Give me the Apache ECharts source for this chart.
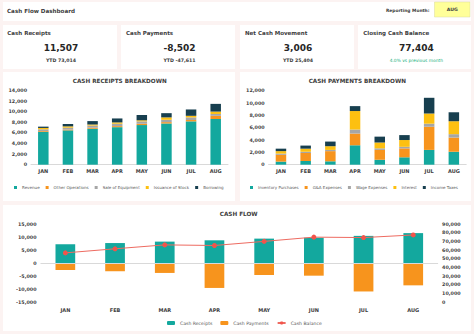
<!DOCTYPE html>
<html><head><meta charset="utf-8">
<script src="https://cdn.jsdelivr.net/npm/echarts@6/dist/echarts.min.js"></script>
<style>html,body{margin:0;padding:0;background:#fcf3f2;}#c{width:474px;height:334px;}</style>
</head><body><div id="c"></div>
<script>
// ---- data ----
const months = ['JAN','FEB','MAR','APR','MAY','JUN','JUL','AUG'];
const revenue    = [6200, 6500, 6800, 7100, 7500, 7800, 8200, 8650];
const otherOps   = [150, 150, 200, 200, 250, 250, 250, 600];
const saleEquip  = [350, 350, 400, 450, 450, 450, 500, 350];
const issuance   = [250, 250, 200, 250, 200, 450, 300, 450];
const borrowing  = [250, 450, 650, 750, 1000, 800, 1200, 1457];
const inventory  = [500, 600, 550, 3150, 800, 1200, 2400, 2100];
const gna        = [1100, 1300, 1650, 1900, 1600, 1450, 3750, 2300];
const wage       = [200, 200, 200, 650, 250, 250, 500, 550];
const interest   = [400, 500, 600, 3000, 950, 1100, 1650, 2100];
const incomeTax  = [400, 500, 750, 800, 950, 800, 2550, 1452];
const cashBalance = [56800, 61500, 66000, 65300, 70000, 74900, 74400, 77404];
const kpiTitles = ['Cash Receipts', 'Cash Payments', 'Net Cash Movement', 'Closing Cash Balance'];
const kpiValues = ['11,507', '-8,502', '3,006', '77,404'];
const kpiSubs   = ['YTD 73,014', 'YTD -47,611', 'YTD 25,404', '4.0% vs previous month'];
const reportingMonth = 'AUG';

// ---- derived ----
const receiptsTotal = months.map((_, i) => revenue[i] + otherOps[i] + saleEquip[i] + issuance[i] + borrowing[i]);
const paymentsTotal = months.map((_, i) => -(inventory[i] + gna[i] + wage[i] + interest[i] + incomeTax[i]));

const C = {teal:'#13a89e', orange:'#f7941d', gray:'#a6a6a6', yellow:'#fdc010', dark:'#173f4f', line:'#ee6b61', marker:'#f2544b'};
const FONT = '"DejaVu Sans", Verdana, sans-serif';
const txt = '#404040';
const fmt = v => v.toLocaleString('en-US');

const chart = echarts.init(document.getElementById('c'), null, {renderer:'svg'});

const graphic = [
  {type:'rect', shape:{x:3,y:2,width:468,height:19}, style:{fill:'#fff'}, silent:true},
  {type:'rect', shape:{x:3,y:25,width:114,height:44}, style:{fill:'#fff'}, silent:true},
  {type:'rect', shape:{x:121,y:25,width:114,height:44}, style:{fill:'#fff'}, silent:true},
  {type:'rect', shape:{x:240,y:25,width:114,height:44}, style:{fill:'#fff'}, silent:true},
  {type:'rect', shape:{x:358,y:25,width:113,height:44}, style:{fill:'#fff'}, silent:true},
  {type:'rect', shape:{x:3,y:72,width:232,height:129}, style:{fill:'#fff'}, silent:true},
  {type:'rect', shape:{x:240,y:72,width:231,height:129}, style:{fill:'#fff'}, silent:true},
  {type:'rect', shape:{x:3,y:205,width:468,height:126}, style:{fill:'#fff'}, silent:true},
  {type:'text', x:7, y:10.7, style:{text:'Cash Flow Dashboard', font:'bold 5.6px '+FONT, fill:txt, verticalAlign:'middle'}},
  {type:'text', x:429.5, y:10.7, style:{text:'Reporting Month:', font:'bold 4.4px '+FONT, fill:txt, align:'right', verticalAlign:'middle'}},
  {type:'rect', shape:{x:434.5,y:2,width:35.5,height:15}, style:{fill:'#ffff99', stroke:'#d9d9a0', lineWidth:0.5}},
  {type:'text', x:452.3, y:9.7, style:{text:reportingMonth, font:'bold 4.6px '+FONT, fill:txt, align:'center', verticalAlign:'middle'}}
];
const cardTitleX = [7.3, 126, 245, 363.3];
const cardCenterX = [61, 179.5, 298, 416.3];
kpiTitles.forEach((t, i) => {
  graphic.push({type:'text', x:cardTitleX[i], y:33.3, style:{text:t, font:'bold 5.5px '+FONT, fill:txt, verticalAlign:'middle'}});
  graphic.push({type:'text', x:cardCenterX[i], y:48.3, style:{text:kpiValues[i], font:'bold 9px '+FONT, fill:'#262626', align:'center', verticalAlign:'middle'}});
  const green = i === 3;
  graphic.push({type:'text', x:cardCenterX[i], y:60.3, style:{text:kpiSubs[i], font:(green?'':'bold ')+(green?'4.4px ':'4.7px ')+FONT, fill:green?'#22b07d':txt, align:'center', verticalAlign:'middle'}});
});

const axisLabel = (size) => ({color:txt, fontWeight:'bold', fontSize:size, fontFamily:FONT});
const catAxis = (gi, size, margin) => ({
  type:'category', gridIndex:gi, data:months,
  axisLine:{show:true, onZero:false, lineStyle:{color:'#d9d9d9', width:1}},
  axisTick:{show:false}, axisLabel:Object.assign(axisLabel(size), {margin:margin}), splitLine:{show:false}
});
const valAxis = (gi, min, max, interval, pos, show=true) => ({
  type:'value', gridIndex:gi, min, max, interval, position:pos,
  axisLine:{show:false}, axisTick:{show:false}, splitLine:{show:false},
  axisLabel:Object.assign(axisLabel(4.8), {formatter:v => fmt(v), margin:4, show:show})
});

const stackBar = (name, data, color, xi, stack, bw) => ({
  name, type:'bar', stack, xAxisIndex:xi, yAxisIndex:xi, data, barWidth:bw,
  itemStyle:{color}, emphasis:{disabled:true}
});

const legendText = (s) => ({color:'#595959', fontSize:s, fontFamily:FONT});

const option = {
  animation:false,
  textStyle:{fontFamily:FONT},
  graphic,
  title:[
    {text:'CASH RECEIPTS BREAKDOWN', left:119.7, top:77.6, textAlign:'center', padding:0, textStyle:{fontSize:5.7, fontWeight:'bold', color:txt, fontFamily:FONT}},
    {text:'CASH PAYMENTS BREAKDOWN', left:357.3, top:77.6, textAlign:'center', padding:0, textStyle:{fontSize:5.7, fontWeight:'bold', color:txt, fontFamily:FONT}},
    {text:'CASH FLOW', left:238.7, top:211, textAlign:'center', padding:0, textStyle:{fontSize:5.7, fontWeight:'bold', color:txt, fontFamily:FONT}}
  ],
  legend:[
    {data:['Revenue','Other Operations','Sale of Equipment','Issuance of Stock','Borrowing'], left:14, top:185.5, padding:0, itemWidth:3, itemHeight:3, itemGap:6, icon:'rect', textStyle:legendText(4.05)},
    {data:['Inventory Purchases','G&A Expenses','Wage Expenses','Interest','Income Taxes'], left:250, top:185.5, padding:0, itemWidth:3, itemHeight:3, itemGap:6, icon:'rect', textStyle:legendText(4.0)},
    {data:['Cash Receipts','Cash Payments','Cash Balance'], left:167, top:320.5, padding:0, itemWidth:8, itemHeight:4, itemGap:8, textStyle:legendText(4.6)}
  ],
  grid:[
    {left:31, top:90.7, width:197, height:74, containLabel:false},
    {left:268.6, top:90.7, width:197.6, height:74, containLabel:false},
    {left:40.5, top:224, width:397.6, height:78.3, containLabel:false}
  ],
  xAxis:[catAxis(0, 5, 4), catAxis(1, 5, 4), Object.assign(catAxis(2, 5, 5), {axisLine:{show:false}})],
  yAxis:[
    valAxis(0, 0, 14000, 2000, 'left'),
    valAxis(1, 0, 12000, 2000, 'left'),
    valAxis(2, -15000, 15000, 5000, 'left'),
    valAxis(2, 0, 90000, 10000, 'right')
  ],
  series:[
    stackBar('Revenue', revenue, C.teal, 0, 'r', 10.5),
    stackBar('Other Operations', otherOps, C.orange, 0, 'r', 10.5),
    stackBar('Sale of Equipment', saleEquip, C.gray, 0, 'r', 10.5),
    stackBar('Issuance of Stock', issuance, C.yellow, 0, 'r', 10.5),
    stackBar('Borrowing', borrowing, C.dark, 0, 'r', 10.5),
    stackBar('Inventory Purchases', inventory, C.teal, 1, 'p', 10.5),
    stackBar('G&A Expenses', gna, C.orange, 1, 'p', 10.5),
    stackBar('Wage Expenses', wage, C.gray, 1, 'p', 10.5),
    stackBar('Interest', interest, C.yellow, 1, 'p', 10.5),
    stackBar('Income Taxes', incomeTax, C.dark, 1, 'p', 10.5),
    Object.assign(stackBar('Cash Receipts', receiptsTotal, C.teal, 2, 'cf', 19.7), {
      markLine:{silent:true, symbol:'none', label:{show:false}, lineStyle:{color:'#d9d9d9', type:'solid', width:1}, data:[{yAxis:0}]}
    }),
    stackBar('Cash Payments', paymentsTotal, C.orange, 2, 'cf', 19.7),
    {name:'Cash Balance', type:'line', xAxisIndex:2, yAxisIndex:3, data:cashBalance,
     symbol:'circle', symbolSize:5, lineStyle:{color:C.line, width:1}, itemStyle:{color:C.marker}, emphasis:{disabled:true}}
  ]
};
chart.setOption(option);
</script></body></html>
